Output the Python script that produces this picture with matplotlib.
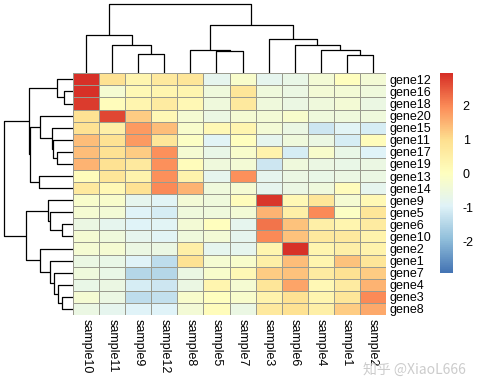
import matplotlib
matplotlib.use('Agg')
import matplotlib.pyplot as plt
import numpy as np
from matplotlib.colors import LinearSegmentedColormap

plt.rcParams['font.family'] = ['Liberation Sans', 'DejaVu Sans']

# column / row order as shown (after clustering)
samples = ['sample10', 'sample11', 'sample9', 'sample12', 'sample8', 'sample5',
           'sample7', 'sample3', 'sample6', 'sample4', 'sample1', 'sample2']
genes = ['gene12', 'gene16', 'gene18', 'gene20', 'gene15', 'gene11', 'gene17',
         'gene19', 'gene13', 'gene14', 'gene9', 'gene5', 'gene6', 'gene10',
         'gene2', 'gene1', 'gene7', 'gene4', 'gene3', 'gene8']

# row-scaled values (rows = genes, columns = samples, same order as above)
values = np.array([
    [2.95, 0.9, 0.3, 0.7, 0.8, -0.8, -0.2, -0.8, -0.7, -0.4, 0.0, -0.4],
    [2.9, -0.3, 0.2, 0.3, 0.3, -0.5, 0.8, -0.5, -0.6, -0.4, -0.4, -0.5],
    [2.8, 0.1, 0.3, 0.6, 0.2, -0.5, 0.7, -0.5, -0.6, -0.5, -0.4, -0.6],
    [0.9, 2.7, 1.2, 0.2, -0.3, -0.6, -0.3, -0.4, -0.2, -0.5, -0.5, -0.5],
    [0.9, 0.5, 1.8, 1.4, -0.2, 0.2, 0.3, -0.4, -0.6, -1.2, -0.9, -1.1],
    [1.4, 0.9, 1.8, 0.8, -0.1, -0.9, 0.0, -0.8, -0.5, -0.6, -1.1, 0.1],
    [1.4, 0.9, 1.2, 1.9, -0.3, -0.7, -0.2, 0.4, -1.1, -0.2, -0.7, -1.0],
    [1.5, 0.9, 0.7, 1.9, 0.1, -0.5, -0.4, -1.2, -0.5, -0.6, -0.7, -0.6],
    [0.1, 0.8, 0.4, 1.9, 0.4, -0.8, 1.9, -0.8, -0.6, -0.7, -0.6, -0.6],
    [0.7, 0.2, 0.9, 2.0, 1.5, -0.5, -0.3, -0.8, -0.6, -0.5, 0.1, -0.8],
    [-0.2, -0.2, -0.8, -0.9, -0.4, -0.5, 0.1, 2.85, 0.2, 0.8, -0.3, 0.2],
    [-0.3, -0.4, -1.0, -1.1, -0.5, -0.5, -0.4, 1.5, 0.5, 2.0, -0.1, 0.8],
    [-0.6, -0.8, -1.0, -0.9, -0.4, 0.0, -0.8, 2.2, 1.3, 0.5, 0.3, 0.6],
    [-0.3, -0.5, -0.8, -0.9, -0.5, -0.4, -0.8, 2.0, 1.3, 0.7, 0.7, 0.4],
    [-0.3, -0.3, -0.6, -0.6, 0.5, -0.8, -0.8, 0.3, 2.9, 0.3, 0.5, 0.4],
    [-0.6, -0.7, -1.0, -1.4, 0.9, -0.3, -0.2, 0.5, 1.4, 0.3, 1.3, 0.8],
    [-0.5, -0.7, -1.5, -1.5, -0.6, -0.2, 0.2, 1.2, 1.3, 0.6, 0.9, 1.2],
    [-0.7, -0.6, -1.1, -1.2, -0.6, 0.3, -0.3, 0.8, 1.7, 0.2, 0.6, 1.5],
    [-0.3, -0.6, -1.4, -1.3, -0.2, 0.0, -0.2, 0.4, 0.9, 0.3, 0.8, 2.0],
    [-0.6, -0.8, -1.0, -1.0, -0.4, 0.1, -0.6, 0.7, 0.9, 0.5, 1.2, 1.6],
])

# dendrogram merges: (left node, right node, height); leaves are the display
# indices, new nodes get n, n+1, ... in the order listed
col_merges = [(2, 3, 58), (1, 12, 85), (0, 13, 115), (5, 6, 67), (4, 15, 70),
              (10, 11, 55), (9, 17, 70), (8, 18, 85), (7, 19, 103),
              (16, 20, 145), (14, 21, 208)]
row_merges = [(1, 2, 27), (0, 20, 50), (6, 7, 50), (5, 22, 62), (4, 23, 65),
              (3, 24, 100), (8, 9, 104), (25, 26, 130), (21, 27, 133),
              (12, 13, 35), (11, 29, 70), (10, 30, 77), (18, 19, 35),
              (17, 32, 45), (16, 33, 57), (15, 34, 70), (14, 35, 100),
              (31, 36, 142), (28, 37, 210)]

legend_ticks = [-2, -1, 0, 1, 2]

# rev(brewer.pal(7, "RdYlBu"))
cmap = LinearSegmentedColormap.from_list(
    'rdylbu', ['#4575B4', '#91BFDB', '#E0F3F8', '#FFFFBF', '#FEE090',
               '#FC8D59', '#D73027'], N=100)
m = np.abs(values).max()

W, H = 480, 384
fig = plt.figure(figsize=(W / 100, H / 100), dpi=100)


def px_axes(x0, y0, x1, y1):
    return fig.add_axes([x0 / W, 1 - y1 / H, (x1 - x0) / W, (y1 - y0) / H])


def draw_dendro(ax, merges, n, top):
    pos = {i: i + 0.5 for i in range(n)}
    hgt = {i: 0.0 for i in range(n)}
    for k, (a, b, h) in enumerate(merges):
        xs = [pos[a], pos[a], pos[b], pos[b]]
        ys = [hgt[a], h, h, hgt[b]]
        if top:
            ax.plot(xs, ys, color='black', lw=0.9, solid_capstyle='butt')
        else:
            ax.plot(ys, xs, color='black', lw=0.9, solid_capstyle='butt')
        pos[n + k] = (pos[a] + pos[b]) / 2
        hgt[n + k] = h


# heatmap
ax = px_axes(73.3, 73.3, 385.7, 315)
ax.pcolormesh(values, cmap=cmap, vmin=-m, vmax=m,
              edgecolors='#9a9a8e', linewidth=0.6)
ax.set_xlim(0, len(samples))
ax.set_ylim(len(genes), 0)
ax.set_xticks(np.arange(len(samples)) + 0.5)
ax.set_xticklabels(samples, rotation=270, fontsize=9)
ax.set_yticks(np.arange(len(genes)) + 0.5)
ax.set_yticklabels(genes, fontsize=9, linespacing=0.8)
ax.yaxis.tick_right()
ax.tick_params(length=0, pad=3)
ax.tick_params(axis='x', pad=3)
for s in ax.spines.values():
    s.set_visible(False)

# column dendrogram
axc = px_axes(73.3, 3, 385.7, 73.3)
draw_dendro(axc, col_merges, len(samples), True)
axc.set_xlim(0, len(samples))
axc.set_ylim(0, 210)
axc.axis('off')

# row dendrogram
axr = px_axes(3, 73.3, 73.3, 315)
draw_dendro(axr, row_merges, len(genes), False)
axr.set_ylim(len(genes), 0)
axr.set_xlim(212, 0)
axr.axis('off')

# legend colour bar
axl = px_axes(440, 73.3, 453, 273.3)
grad = np.linspace(-m, m, 100).reshape(-1, 1)
axl.imshow(grad, cmap=cmap, vmin=-m, vmax=m, aspect='auto', origin='lower',
           extent=[0, 1, -m, m])
axl.set_xticks([])
axl.set_yticks(legend_ticks)
axl.set_yticklabels([str(t) for t in legend_ticks], fontsize=9)
axl.yaxis.tick_right()
axl.tick_params(length=0, pad=7)
for s in axl.spines.values():
    s.set_visible(False)

# watermark
fig.text(414 / W, 1 - 371 / H, '知乎 @XiaoL666', color='#cccccc', fontsize=10,
         ha='center', va='center', family=['Noto Sans CJK SC', 'DejaVu Sans'])

fig.savefig('out.png', dpi=100)
